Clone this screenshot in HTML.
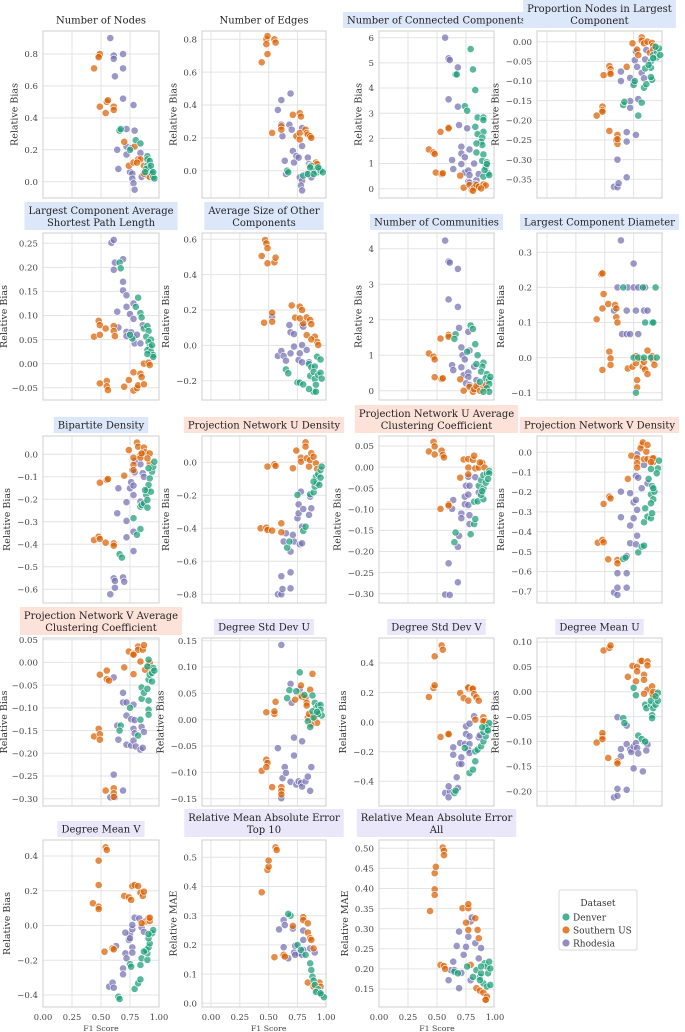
<!DOCTYPE html>
<html><head><meta charset="utf-8"><style>
html,body{margin:0;padding:0;background:#fff;}
svg{display:block;font-family:"DejaVu Serif","Liberation Serif",serif;}
</style></head><body>
<svg id="fig" width="685" height="1032" viewBox="0 0 685 1032" xmlns="http://www.w3.org/2000/svg"></svg>
<script>
// ---- data: [F1 score, value] pairs per dataset per metric ----
const nodesDenver=[[.66,.32],[.67,.33],[.80,.26],[.84,.24],[.75,.20],[.90,.16],[.90,.14],[.90,.10],[.91,.09],[.93,.07],[.94,.05],[.95,.03],[.96,.02],[.89,.08],[.92,.13],[.93,.10],[.95,.06],[.88,.06]];
const nodesSouthern=[[.44,.71],[.48,.79],[.49,.80],[.48,.78],[.49,.47],[.54,.43],[.55,.50],[.56,.51],[.61,.47],[.61,.45],[.70,.25],[.74,.10],[.78,.12],[.79,.22],[.82,.14],[.84,.14],[.87,.10],[.92,.05],[.92,.03],[.87,.05],[.81,.12]];
const nodesRhodesia=[[.58,.90],[.61,.79],[.61,.77],[.62,.66],[.69,.80],[.69,.71],[.69,.52],[.78,.48],[.64,.20],[.65,.08],[.72,.33],[.72,.22],[.72,.17],[.76,.21],[.79,.32],[.75,.06],[.77,.05],[.77,.02],[.78,-.01],[.79,-.05],[.84,.18],[.85,.03],[.90,.04]];
const edgesDenver=[[.66,0],[.67,-.01],[.80,-.03],[.84,-.02],[.87,.03],[.89,.01],[.90,0],[.92,-.01],[.94,.01],[.95,0],[.97,-.01],[.89,-.02],[.93,.02],[.86,.02]];
const edgesSouthern=[[.44,.66],[.48,.80],[.49,.82],[.48,.77],[.49,.71],[.55,.80],[.56,.78],[.53,.23],[.61,.27],[.61,.25],[.71,.34],[.74,.21],[.77,.23],[.77,.35],[.78,.33],[.77,.19],[.82,.25],[.83,.23],[.84,.22],[.86,.21],[.87,.20],[.86,.03],[.91,.05],[.92,.04]];
const edgesRhodesia=[[.61,.43],[.58,.37],[.69,.47],[.62,.21],[.61,.28],[.68,.28],[.70,.25],[.79,.26],[.79,.15],[.71,.12],[.72,.05],[.74,.09],[.76,.08],[.64,.06],[.65,-.02],[.77,-.04],[.79,-.06],[.78,-.09],[.79,-.12],[.83,-.02],[.84,.08],[.87,-.04],[.85,.04]];
const compsDenver=[[.66,4.54],[.67,4.54],[.79,5.55],[.81,4.74],[.83,3.92],[.74,3.28],[.76,3.10],[.85,2.83],[.90,2.83],[.90,2.73],[.83,2.46],[.90,2.26],[.85,2.17],[.89,2.03],[.88,1.87],[.89,1.74],[.84,1.80],[.84,1.44],[.90,1.36],[.89,1.11],[.93,1.05],[.92,.87],[.94,.61],[.90,.48],[.95,.54],[.91,.74],[.93,.98]];
const compsSouthern=[[.43,1.56],[.47,1.44],[.48,1.38],[.49,.64],[.54,.58],[.55,.61],[.53,2.26],[.60,2.44],[.60,2.40],[.70,.52],[.73,.04],[.78,.15],[.80,-.05],[.82,.04],[.84,.15],[.86,.08],[.90,.17],[.92,.13],[.81,-.08],[.88,.01]];
const compsRhodesia=[[.57,6.0],[.60,5.18],[.61,5.11],[.68,4.82],[.60,3.55],[.68,3.26],[.69,2.53],[.76,2.40],[.63,1.14],[.71,1.67],[.71,1.40],[.74,1.25],[.78,1.56],[.64,.78],[.71,.98],[.74,.64],[.77,.72],[.77,.28],[.78,.54],[.78,.24],[.82,1.0],[.84,.34],[.86,.58],[.83,.19]];
const propDenver=[[.66,-.161],[.67,-.153],[.79,-.188],[.82,-.155],[.75,-.11],[.76,-.10],[.84,-.117],[.86,-.108],[.91,-.097],[.90,-.09],[.90,-.066],[.85,-.068],[.90,-.05],[.92,-.034],[.95,-.025],[.97,-.017],[.94,-.013],[.95,-.04],[.98,-.034],[.92,-.042],[.88,-.059]];
const propSouthern=[[.43,-.188],[.48,-.165],[.48,-.174],[.48,-.178],[.49,-.085],[.54,-.062],[.55,-.07],[.55,-.078],[.55,-.082],[.54,-.227],[.61,-.237],[.60,-.25],[.61,-.26],[.61,-.248],[.69,-.064],[.74,-.004],[.78,-.02],[.79,-.034],[.82,.011],[.82,.003],[.84,-.004],[.87,0],[.89,-.028],[.91,-.003],[.92,-.01],[.92,-.02]];
const propRhodesia=[[.58,-.369],[.61,-.37],[.62,-.36],[.61,-.30],[.69,-.345],[.69,-.254],[.69,-.23],[.77,-.237],[.79,-.146],[.72,-.168],[.72,-.151],[.64,-.10],[.64,-.076],[.72,-.092],[.75,-.104],[.76,-.047],[.77,-.025],[.78,-.064],[.86,-.021],[.85,-.045],[.82,-.079],[.84,-.093]];
const asplDenver=[[.66,.21],[.67,.198],[.82,.137],[.80,.118],[.84,.105],[.85,.096],[.77,.052],[.75,.06],[.87,.073],[.90,.078],[.91,.068],[.89,.056],[.93,.05],[.91,.045],[.92,.035],[.90,.028],[.93,.025],[.95,.018],[.95,.014],[.90,.02],[.94,.038]];
const asplSouthern=[[.44,.056],[.48,.089],[.49,.08],[.49,.06],[.54,.073],[.61,.078],[.61,.068],[.62,.057],[.49,-.041],[.55,-.036],[.55,-.047],[.56,-.055],[.70,-.048],[.74,-.034],[.78,-.018],[.78,-.056],[.81,-.051],[.82,-.045],[.84,-.021],[.85,-.028],[.87,-.043],[.87,0],[.91,.002],[.92,-.003]];
const asplRhodesia=[[.59,.251],[.61,.257],[.62,.21],[.61,.195],[.69,.217],[.69,.17],[.69,.152],[.72,.142],[.64,.108],[.72,.118],[.75,.103],[.78,.125],[.78,.093],[.65,.075],[.72,.066],[.76,.065],[.78,.055],[.79,.042],[.84,.042],[.86,.08],[.81,.06],[.72,.057]];
const otherDenver=[[.65,-.136],[.67,-.158],[.75,-.21],[.77,-.211],[.80,-.221],[.85,-.106],[.87,-.124],[.90,-.12],[.92,-.064],[.95,-.08],[.86,-.173],[.89,-.15],[.90,-.19],[.91,-.223],[.93,-.168],[.95,-.155],[.96,-.188],[.89,-.262],[.91,-.262],[.85,-.247]];
const otherSouthern=[[.44,.506],[.47,.596],[.48,.577],[.49,.55],[.49,.464],[.55,.47],[.56,.496],[.46,.128],[.53,.185],[.53,.134],[.70,.226],[.73,.157],[.77,.219],[.79,.2],[.83,.158],[.86,.143],[.87,.12],[.83,.058],[.90,.049],[.92,.02],[.93,.002],[.87,.034],[.80,.124],[.77,.153]];
const otherRhodesia=[[.53,.162],[.68,.115],[.69,.074],[.72,.064],[.79,.115],[.80,.106],[.58,-.06],[.61,-.032],[.63,-.06],[.65,-.087],[.69,-.045],[.72,-.007],[.76,-.083],[.79,-.096],[.79,.002],[.83,-.026],[.85,-.096],[.77,-.045]];
const commDenver=[[.66,1.59],[.65,1.46],[.79,1.84],[.81,1.74],[.83,1.31],[.76,1.1],[.85,1.0],[.90,.79],[.89,.68],[.84,.75],[.88,.54],[.93,.47],[.92,.35],[.95,.3],[.95,.19],[.93,.07],[.95,-.03],[.90,-.03],[.87,.25],[.96,.39]];
const commSouthern=[[.43,1.05],[.47,.96],[.48,.88],[.48,.38],[.54,.33],[.55,.35],[.53,1.47],[.60,1.57],[.60,1.52],[.70,.32],[.73,0],[.78,.11],[.81,-.03],[.82,.04],[.84,.13],[.87,0],[.90,.11],[.91,.07],[.92,.16]];
const commRhodesia=[[.57,4.23],[.60,3.64],[.61,3.61],[.68,3.43],[.60,2.57],[.68,2.36],[.69,1.77],[.77,1.66],[.63,.72],[.64,.58],[.71,1.22],[.72,1.0],[.74,.88],[.78,1.13],[.73,.44],[.77,.51],[.77,.39],[.75,.21],[.78,.16],[.82,.68],[.84,.3],[.86,.13],[.71,.66]];
const diamDenver=[[.66,.2],[.83,.2],[.94,.2],[.85,.1],[.91,.1],[.92,.1],[.75,0],[.79,0],[.84,0],[.90,0],[.95,0],[.77,-.1]];
const diamSouthern=[[.43,.109],[.47,.238],[.48,.24],[.49,.181],[.48,.14],[.48,-.035],[.53,.153],[.54,.017],[.55,-.002],[.55,-.021],[.59,.15],[.60,.14],[.60,.115],[.61,.1],[.70,-.031],[.74,-.026],[.77,.004],[.77,-.016],[.78,-.064],[.78,-.085],[.82,-.005],[.83,-.026],[.84,-.012],[.85,-.034],[.87,.02],[.87,-.047],[.91,.004],[.92,-.007],[.93,-.021]];
const diamRhodesia=[[.64,.334],[.75,.268],[.61,.2],[.70,.2],[.75,.2],[.79,.2],[.85,.2],[.58,.134],[.69,.134],[.77,.134],[.84,.134],[.87,.134],[.65,.067],[.69,.067],[.72,.067],[.79,.067]];
const bipDenver=[[.66,-.444],[.68,-.459],[.84,-.332],[.81,-.358],[.78,-.284],[.84,-.233],[.85,-.225],[.87,-.218],[.90,-.237],[.90,-.158],[.91,-.136],[.92,-.107],[.94,-.077],[.95,-.055],[.96,-.033],[.91,-.062],[.89,-.18],[.90,-.203],[.93,-.166],[.88,-.159]];
const bipSouthern=[[.44,-.381],[.48,-.366],[.49,-.376],[.49,-.126],[.55,-.114],[.56,-.11],[.54,-.393],[.61,-.396],[.61,-.406],[.70,-.095],[.74,.019],[.78,-.015],[.78,-.047],[.81,.052],[.82,.034],[.84,-.003],[.84,-.015],[.87,.03],[.88,.009],[.92,.004],[.92,-.04],[.90,-.018],[.85,.004],[.78,-.07]];
const bipRhodesia=[[.58,-.622],[.62,-.593],[.61,-.551],[.62,-.563],[.69,-.547],[.70,-.566],[.64,-.262],[.65,-.151],[.72,-.213],[.72,-.296],[.75,-.151],[.76,-.124],[.78,-.139],[.78,-.181],[.72,-.369],[.78,-.344],[.78,-.43],[.77,-.07],[.79,-.08],[.84,-.21],[.86,-.084],[.87,-.1],[.84,-.044],[.79,-.03]];
const puDenDenver=[[.66,-.517],[.68,-.48],[.75,-.198],[.80,-.416],[.82,-.39],[.86,-.194],[.89,-.182],[.90,-.147],[.92,-.127],[.91,-.087],[.93,-.073],[.95,-.046],[.96,-.026],[.95,-.093],[.89,-.117],[.94,-.137]];
const puDenSouthern=[[.43,-.4],[.48,-.396],[.49,-.41],[.53,-.414],[.61,-.424],[.61,-.37],[.49,-.026],[.55,-.012],[.56,-.022],[.71,-.036],[.74,.071],[.78,.028],[.78,.004],[.82,.121],[.82,.095],[.83,.024],[.85,-.026],[.86,.014],[.87,.055],[.91,-.006],[.92,-.04],[.89,.034]];
const puDenRhodesia=[[.58,-.8],[.61,-.8],[.62,-.768],[.69,-.764],[.61,-.69],[.69,-.667],[.63,-.48],[.65,-.43],[.69,-.541],[.72,-.48],[.71,-.44],[.77,-.497],[.79,-.491],[.75,-.339],[.76,-.309],[.76,-.255],[.78,-.178],[.80,-.283],[.79,-.39],[.85,-.319],[.86,-.208],[.87,-.279]];
const puCcDenver=[[.66,-.155],[.65,-.178],[.79,-.159],[.82,-.135],[.83,-.123],[.82,-.082],[.85,-.081],[.90,-.076],[.88,-.066],[.86,-.044],[.88,-.031],[.90,-.019],[.93,-.015],[.95,-.009],[.95,-.015],[.90,-.05],[.92,-.037],[.89,-.057],[.94,-.028]];
const puCcSouthern=[[.43,.037],[.47,.06],[.48,.049],[.48,.03],[.54,.039],[.55,.029],[.56,.023],[.53,-.099],[.60,-.088],[.60,-.091],[.70,-.025],[.73,.018],[.77,.019],[.77,-.001],[.77,-.017],[.81,.017],[.82,.027],[.83,-.003],[.86,-.001],[.89,.01],[.91,-.001],[.87,.011]];
const puCcRhodesia=[[.57,-.302],[.61,-.303],[.60,-.228],[.68,-.273],[.68,-.189],[.69,-.163],[.64,-.078],[.63,-.099],[.71,-.11],[.71,-.121],[.74,-.088],[.74,-.07],[.75,-.044],[.77,-.023],[.78,-.044],[.77,-.065],[.77,-.09],[.78,-.114],[.78,-.135],[.83,-.024],[.86,-.06]];
const pvDenDenver=[[.66,-.537],[.68,-.53],[.79,-.504],[.82,-.475],[.84,-.47],[.84,-.352],[.87,-.324],[.85,-.282],[.90,-.332],[.91,-.307],[.90,-.212],[.93,-.198],[.91,-.17],[.92,-.181],[.90,-.084],[.96,-.081],[.97,-.042],[.95,-.106],[.88,-.134],[.92,-.237],[.90,-.257]];
const pvDenSouthern=[[.44,-.455],[.48,-.441],[.49,-.453],[.49,-.26],[.54,-.223],[.55,-.232],[.53,-.539],[.61,-.542],[.61,-.559],[.70,-.134],[.73,-.017],[.78,-.03],[.78,-.055],[.78,-.077],[.82,.037],[.81,.02],[.83,.05],[.86,.003],[.87,.037],[.84,-.035],[.87,-.034],[.91,-.03],[.92,-.05],[.92,-.03],[.90,-.05]];
const pvDenRhodesia=[[.58,-.706],[.61,-.718],[.61,-.682],[.69,-.682],[.61,-.609],[.69,-.609],[.69,-.522],[.72,-.458],[.77,-.463],[.78,-.42],[.72,-.369],[.75,-.332],[.64,-.327],[.64,-.198],[.72,-.206],[.75,-.252],[.78,-.29],[.77,-.24],[.77,-.119],[.79,-.128],[.82,-.181],[.84,-.064],[.87,-.156],[.78,-.01]];
const pvCcDenver=[[.67,-.139],[.66,-.15],[.75,-.1],[.82,-.161],[.84,-.126],[.85,-.08],[.85,-.055],[.87,-.067],[.90,-.058],[.91,-.084],[.91,-.104],[.91,-.115],[.91,-.038],[.92,-.027],[.94,-.023],[.95,-.012],[.96,-.018],[.91,.006],[.90,-.009],[.94,-.042]];
const pvCcSouthern=[[.44,-.163],[.48,-.146],[.49,-.158],[.49,-.17],[.54,-.282],[.61,-.277],[.61,-.288],[.61,-.296],[.49,-.027],[.55,-.018],[.55,-.037],[.57,-.04],[.70,-.011],[.74,.024],[.78,-.026],[.78,.019],[.82,.035],[.82,.028],[.84,.002],[.86,.028],[.87,.038],[.91,-.009],[.92,-.016],[.88,-.016],[.92,-.001],[.78,.017]];
const pvCcRhodesia=[[.58,-.297],[.62,-.297],[.61,-.247],[.69,-.282],[.61,-.033],[.69,-.067],[.69,-.088],[.72,-.088],[.64,-.139],[.65,-.17],[.72,-.117],[.76,-.125],[.78,-.093],[.79,-.127],[.78,-.146],[.72,-.181],[.76,-.183],[.78,-.172],[.80,-.185],[.84,-.192],[.86,-.188],[.85,-.142],[.87,-.153],[.79,-.156]];
const stdUDenver=[[.66,.041],[.68,.056],[.74,.054],[.77,.09],[.81,.047],[.84,-.003],[.86,-.014],[.88,.046],[.90,.032],[.91,.022],[.93,.027],[.95,.028],[.95,.019],[.96,.008],[.93,.011],[.89,.004],[.88,.016],[.92,.015]];
const stdUSouthern=[[.44,-.097],[.48,-.076],[.49,-.082],[.48,-.09],[.48,.014],[.55,.011],[.55,.016],[.56,.034],[.53,-.128],[.61,-.128],[.61,-.135],[.61,-.142],[.73,.038],[.78,.065],[.78,.046],[.79,.044],[.82,.041],[.83,.032],[.83,.027],[.84,.004],[.85,.011],[.86,.057],[.88,.087],[.90,.003],[.92,-.006],[.92,.01],[.87,-.009]];
const stdURhodesia=[[.61,.142],[.58,-.054],[.62,-.111],[.64,-.09],[.65,-.101],[.69,-.118],[.69,.068],[.70,.032],[.72,-.034],[.72,-.068],[.74,-.123],[.76,-.117],[.78,-.12],[.79,-.127],[.77,.058],[.79,-.041],[.82,-.117],[.84,-.108],[.87,-.09],[.86,-.135],[.61,-.149]];
const stdVDenver=[[.65,-.479],[.66,-.463],[.78,-.344],[.81,-.321],[.83,-.265],[.83,-.197],[.85,-.186],[.88,-.163],[.90,-.13],[.92,-.096],[.90,-.066],[.93,-.051],[.94,-.028],[.95,-.006],[.92,-.035],[.89,-.035],[.74,-.175],[.94,-.057]];
const stdVSouthern=[[.43,.17],[.47,.231],[.48,.249],[.48,.445],[.54,.519],[.55,.49],[.53,-.1],[.60,-.085],[.60,-.08],[.70,.197],[.73,.163],[.77,.145],[.77,.227],[.77,.235],[.80,.224],[.81,.226],[.82,.19],[.84,.168],[.86,.145],[.83,.017],[.90,.033],[.91,.01],[.90,.006]];
const stdVRhodesia=[[.57,-.479],[.61,-.468],[.60,-.508],[.60,-.434],[.68,-.445],[.67,-.373],[.64,-.22],[.64,-.17],[.69,-.283],[.71,-.283],[.71,-.238],[.70,-.141],[.74,-.148],[.78,-.148],[.75,-.08],[.75,-.028],[.78,-.01],[.77,-.186],[.78,-.208],[.78,-.096],[.82,.04],[.86,-.103],[.87,-.089]];
const meanUDenver=[[.66,-.053],[.67,-.063],[.79,-.088],[.82,-.095],[.85,-.1],[.75,.008],[.77,-.007],[.85,-.026],[.86,-.033],[.90,-.026],[.90,-.018],[.92,-.033],[.94,-.026],[.96,-.018],[.96,-.002],[.91,-.047],[.91,-.053],[.94,-.009]];
const meanUSouthern=[[.43,-.102],[.48,-.09],[.48,-.083],[.48,-.095],[.49,.083],[.54,.088],[.55,.093],[.53,-.133],[.61,-.14],[.61,-.144],[.70,.03],[.74,.052],[.77,.021],[.78,.05],[.78,.041],[.81,.062],[.82,.062],[.84,.034],[.84,.024],[.87,.061],[.87,.053],[.87,.004],[.84,-.004],[.91,.011],[.91,-.004],[.92,-.007],[.92,0]];
const meanURhodesia=[[.58,-.212],[.61,-.209],[.61,-.195],[.69,-.197],[.75,-.154],[.83,-.16],[.61,-.051],[.69,-.068],[.64,-.115],[.64,-.13],[.69,-.105],[.72,-.116],[.73,-.121],[.75,-.11],[.77,-.103],[.78,-.113],[.79,-.124],[.84,-.1],[.87,-.106],[.86,-.118]];
const meanVDenver=[[.65,-.41],[.66,-.423],[.79,-.365],[.82,-.333],[.84,-.31],[.75,-.222],[.76,-.237],[.84,-.227],[.85,-.189],[.90,-.198],[.90,-.16],[.89,-.141],[.91,-.126],[.92,-.103],[.91,-.074],[.94,-.045],[.95,-.026],[.91,-.049],[.87,-.15]];
const meanVSouthern=[[.43,.128],[.48,.108],[.48,.095],[.48,.233],[.48,.373],[.54,.45],[.55,.435],[.53,-.151],[.60,-.131],[.61,-.137],[.70,.17],[.74,.162],[.76,.147],[.77,.227],[.79,.233],[.82,.227],[.84,.189],[.86,.17],[.87,.195],[.88,.022],[.91,.041],[.92,.026],[.92,.045],[.85,.013]];
const meanVRhodesia=[[.57,-.352],[.60,-.329],[.61,-.358],[.63,-.118],[.69,-.247],[.69,-.281],[.71,-.16],[.72,-.189],[.74,-.083],[.75,-.049],[.75,-.074],[.77,-.022],[.77,.003],[.77,-.126],[.79,.045],[.77,-.156],[.83,.041],[.85,-.011],[.87,-.036],[.71,-.041]];
const maeTopDenver=[[.69,.3],[.67,.306],[.75,.2],[.78,.183],[.82,.166],[.86,.137],[.87,.114],[.88,.091],[.89,.078],[.90,.063],[.93,.048],[.94,.037],[.96,.029],[.98,.021],[.91,.039],[.95,.034]];
const maeTopSouthern=[[.44,.38],[.49,.457],[.50,.468],[.50,.489],[.56,.534],[.57,.525],[.55,.158],[.63,.166],[.64,.16],[.71,.265],[.80,.295],[.80,.285],[.84,.274],[.84,.242],[.86,.223],[.87,.217],[.89,.188],[.84,.071],[.89,.057],[.94,.071],[.95,.057],[.92,.043]];
const maeTopRhodesia=[[.63,.285],[.64,.268],[.59,.253],[.63,.192],[.67,.154],[.72,.174],[.71,.256],[.73,.197],[.76,.171],[.80,.249],[.80,.217],[.80,.183],[.86,.188],[.90,.174],[.79,.166],[.73,.166]];
const maeAllDenver=[[.65,.193],[.68,.189],[.76,.206],[.81,.18],[.84,.197],[.87,.18],[.88,.189],[.91,.214],[.93,.206],[.94,.189],[.95,.218],[.96,.201],[.90,.164],[.93,.156],[.96,.16],[.87,.172],[.88,.206]];
const maeAllSouthern=[[.44,.344],[.48,.398],[.48,.384],[.48,.438],[.49,.454],[.55,.502],[.56,.494],[.56,.483],[.53,.21],[.56,.207],[.57,.2],[.72,.351],[.75,.315],[.77,.297],[.77,.351],[.77,.361],[.83,.326],[.85,.297],[.86,.276],[.84,.152],[.87,.146],[.90,.141],[.92,.124],[.93,.131],[.92,.123],[.79,.21]];
const maeAllRhodesia=[[.62,.197],[.64,.218],[.67,.257],[.69,.293],[.71,.19],[.73,.235],[.75,.255],[.77,.28],[.79,.318],[.80,.328],[.86,.226],[.88,.252],[.79,.172],[.69,.152],[.60,.172],[.83,.264],[.65,.197]];

const xTicks=[0,0.25,0.5,0.75,1.0];
const xTickLabels=["0.00","0.25","0.50","0.75","1.00"];
const datasets=["Denver","Southern US","Rhodesia"];
const colors={"Denver":"#1b9e77","Southern US":"#d95f02","Rhodesia":"#7570b3"};

// ---- layout ----
const cols=[{l:43,r:159,x0:43,u:116},{l:202,r:326,x0:211,u:115.3},{l:379,r:494,x0:379,u:116},{l:537,r:662,x0:547,u:115.5}];
const rows=[[31,198],[233,400],[436,603],[638,806],[840,1007]];
const BLUE="#dce7fa",SAL="#fde2da",LAV="#e9e7f9";
const panels=[
 {id:"number-of-nodes",t:["Number of Nodes"],bg:null,r:0,c:0,ticks:[0,.2,.4,.6,.8],pA:181.7,pB:54,d:1,s:[nodesDenver,nodesSouthern,nodesRhodesia]},
 {id:"number-of-edges",t:["Number of Edges"],bg:null,r:0,c:1,ticks:[0,.2,.4,.6,.8],pA:170.7,pB:39.3,d:1,s:[edgesDenver,edgesSouthern,edgesRhodesia]},
 {id:"connected-components",t:["Number of Connected Components"],bg:BLUE,r:0,c:2,ticks:[0,1,2,3,4,5,6],pA:188.7,pB:37.7,d:0,s:[compsDenver,compsSouthern,compsRhodesia]},
 {id:"proportion-largest",t:["Proportion Nodes in Largest","Component"],bg:BLUE,r:0,c:3,ticks:[-.35,-.3,-.25,-.2,-.15,-.1,-.05,0],pA:179.3,pB:41.7,d:2,s:[propDenver,propSouthern,propRhodesia]},
 {id:"avg-shortest-path",t:["Largest Component Average","Shortest Path Length"],bg:BLUE,r:1,c:0,ticks:[-.05,0,.05,.1,.15,.2,.25],pA:387.7,pB:243.3,d:2,s:[asplDenver,asplSouthern,asplRhodesia]},
 {id:"avg-size-other",t:["Average Size of Other","Components"],bg:BLUE,r:1,c:1,ticks:[-.2,0,.2,.4,.6],pA:380.7,pB:239.3,d:1,s:[otherDenver,otherSouthern,otherRhodesia]},
 {id:"number-of-communities",t:["Number of Communities"],bg:BLUE,r:1,c:2,ticks:[0,1,2,3,4],pA:390.7,pB:248.7,d:0,s:[commDenver,commSouthern,commRhodesia]},
 {id:"component-diameter",t:["Largest Component Diameter"],bg:BLUE,r:1,c:3,ticks:[-.1,0,.1,.2,.3],pA:392.7,pB:252.3,d:1,s:[diamDenver,diamSouthern,diamRhodesia]},
 {id:"bipartite-density",t:["Bipartite Density"],bg:BLUE,r:2,c:0,ticks:[-.6,-.5,-.4,-.3,-.2,-.1,0],pA:589.3,pB:454.3,d:1,s:[bipDenver,bipSouthern,bipRhodesia]},
 {id:"proj-u-density",t:["Projection Network U Density"],bg:SAL,r:2,c:1,ticks:[-.8,-.6,-.4,-.2,0],pA:594.3,pB:462.3,d:1,s:[puDenDenver,puDenSouthern,puDenRhodesia]},
 {id:"proj-u-clustering",t:["Projection Network U Average","Clustering Coefficient"],bg:SAL,r:2,c:2,ticks:[-.3,-.25,-.2,-.15,-.1,-.05,0,.05],pA:593.7,pB:446,d:2,s:[puCcDenver,puCcSouthern,puCcRhodesia]},
 {id:"proj-v-density",t:["Projection Network V Density"],bg:SAL,r:2,c:3,ticks:[-.7,-.6,-.5,-.4,-.3,-.2,-.1,0],pA:591.3,pB:452.3,d:1,s:[pvDenDenver,pvDenSouthern,pvDenRhodesia]},
 {id:"proj-v-clustering",t:["Projection Network V Average","Clustering Coefficient"],bg:SAL,r:3,c:0,ticks:[-.3,-.25,-.2,-.15,-.1,-.05,0,.05],pA:798.7,pB:639.7,d:2,s:[pvCcDenver,pvCcSouthern,pvCcRhodesia]},
 {id:"degree-std-u",t:["Degree Std Dev U"],bg:LAV,r:3,c:1,ticks:[-.15,-.1,-.05,0,.05,.1,.15],pA:798.7,pB:640.7,d:2,s:[stdUDenver,stdUSouthern,stdURhodesia]},
 {id:"degree-std-v",t:["Degree Std Dev V"],bg:LAV,r:3,c:2,ticks:[-.4,-.2,0,.2,.4],pA:781.3,pB:663,d:1,s:[stdVDenver,stdVSouthern,stdVRhodesia]},
 {id:"degree-mean-u",t:["Degree Mean U"],bg:LAV,r:3,c:3,ticks:[-.2,-.15,-.1,-.05,0,.05,.1],pA:791.3,pB:642,d:2,s:[meanUDenver,meanUSouthern,meanURhodesia]},
 {id:"degree-mean-v",t:["Degree Mean V"],bg:LAV,r:4,c:0,ticks:[-.4,-.2,0,.2,.4],pA:995,pB:856,d:1,s:[meanVDenver,meanVSouthern,meanVRhodesia]},
 {id:"mae-top10",t:["Relative Mean Absolute Error","Top 10"],bg:LAV,r:4,c:1,ylab:"Relative MAE",ticks:[0,.1,.2,.3,.4,.5],pA:1003.3,pB:857.3,d:1,s:[maeTopDenver,maeTopSouthern,maeTopRhodesia]},
 {id:"mae-all",t:["Relative Mean Absolute Error","All"],bg:LAV,r:4,c:2,ylab:"Relative MAE",ticks:[.15,.2,.25,.3,.35,.4,.45,.5],pA:989,pB:848.3,d:2,s:[maeAllDenver,maeAllSouthern,maeAllRhodesia]}
];

const NS="http://www.w3.org/2000/svg";
const svg=document.getElementById('fig');
function mk(tag,attrs,parent){const e=document.createElementNS(NS,tag);for(const k in attrs)e.setAttribute(k,attrs[k]);(parent||svg).appendChild(e);return e;}
function fmt(v,d){const s=Math.abs(v).toFixed(d);return (v<-1e-9?"\u2212":"")+s;}

const titleLayer=[];
panels.forEach(p=>{
  const col=cols[p.c],[top,bot]=rows[p.r];
  const t0=p.ticks[0],t1=p.ticks[p.ticks.length-1];
  const ys=v=>p.pA+(v-t0)*(p.pB-p.pA)/(t1-t0);
  const xs=v=>col.x0+v*col.u;
  const g=mk('g',{});
  
  
  xTicks.forEach(v=>{const x=xs(v);if(x>col.l+0.5&&x<col.r-0.5){const l=mk('line',{x1:x,x2:x,y1:top,y2:bot,stroke:'#e3e3e3','stroke-width':1},g);}});
  let maxW=0;
  p.ticks.forEach(v=>{const y=ys(v);const l=mk('line',{x1:col.l,x2:col.r,y1:y,y2:y,stroke:'#e3e3e3','stroke-width':1},g);
    const tx=mk('text',{x:col.l-5,y:y+3.2,'text-anchor':'end','font-size':'8.6px',fill:'#444'},g);tx.textContent=fmt(v,p.d);
    maxW=Math.max(maxW,tx.getComputedTextLength());});
  const fr=mk('rect',{x:col.l,y:top,width:col.r-col.l,height:bot-top,fill:'none',stroke:'#cfcfcf','stroke-width':1},g);
  
  const ylx=Math.max(7,col.l-5-maxW-7);
  const yl=mk('text',{transform:`translate(${ylx},${(top+bot)/2}) rotate(-90)`,'text-anchor':'middle','font-size':'9.5px',fill:'#333'},g);
  yl.textContent=p.ylab||'Relative Bias';
  
  if(p.r===4){xTicks.forEach((v,i)=>{const t=mk('text',{x:xs(v),y:bot+13,'text-anchor':'middle','font-size':'8.3px',fill:'#444'},g);t.textContent=xTickLabels[i];});
    const xt=mk('text',{x:xs(0.5),y:bot+24,'text-anchor':'middle','font-size':'7.8px',fill:'#444'},g);xt.textContent='F1 Score';}
  const order=[2,1,0];
  order.forEach(si=>{const ds=datasets[si];p.s[si].forEach(pt=>{
    const c=mk('circle',{cx:xs(pt[0]),cy:ys(pt[1]),r:3.6,fill:colors[ds],'fill-opacity':0.72,stroke:'#fff','stroke-width':0.6},g);
    
    });});
  titleLayer.push({p,cx:(col.l+col.r)/2,top});
});

titleLayer.forEach(({p,cx,top})=>{
  const tg=mk('g',{});
  
  
  const lines=p.t;const centers=lines.length===1?[top-11]:[top-22.5,top-10.5];
  const texts=lines.map((s,i)=>{const t=mk('text',{x:cx,y:centers[i]+3.6,'text-anchor':'middle','font-size':'10px',fill:'#222'},tg);t.textContent=s;return t;});
  if(p.bg){let w=0;texts.forEach(t=>{w=Math.max(w,t.getComputedTextLength());});
    const y0=lines.length===1?top-19:top-31;const rect=document.createElementNS(NS,'rect');
    rect.setAttribute('x',cx-w/2-4);rect.setAttribute('y',y0);rect.setAttribute('width',w+8);rect.setAttribute('height',top-3-y0);rect.setAttribute('fill',p.bg);
    tg.insertBefore(rect,tg.firstChild);}
});

const lg=mk('g',{});


const lr=mk('rect',{x:559,y:890,width:78,height:60,fill:'#fff',stroke:'#d8d8d8','stroke-width':1,rx:2},lg);

const lt=mk('text',{x:598,y:906,'text-anchor':'middle','font-size':'9px',fill:'#333'},lg);lt.textContent='Dataset';

datasets.forEach((ds,i)=>{const y=917+i*13;
  const e=mk('g',{},lg);
  mk('circle',{cx:566,cy:y,r:3.6,fill:colors[ds],'fill-opacity':0.8},e);
  const t=mk('text',{x:573,y:y+3.3,'font-size':'9px',fill:'#333'},e);t.textContent=ds;});
</script>
</body></html>
